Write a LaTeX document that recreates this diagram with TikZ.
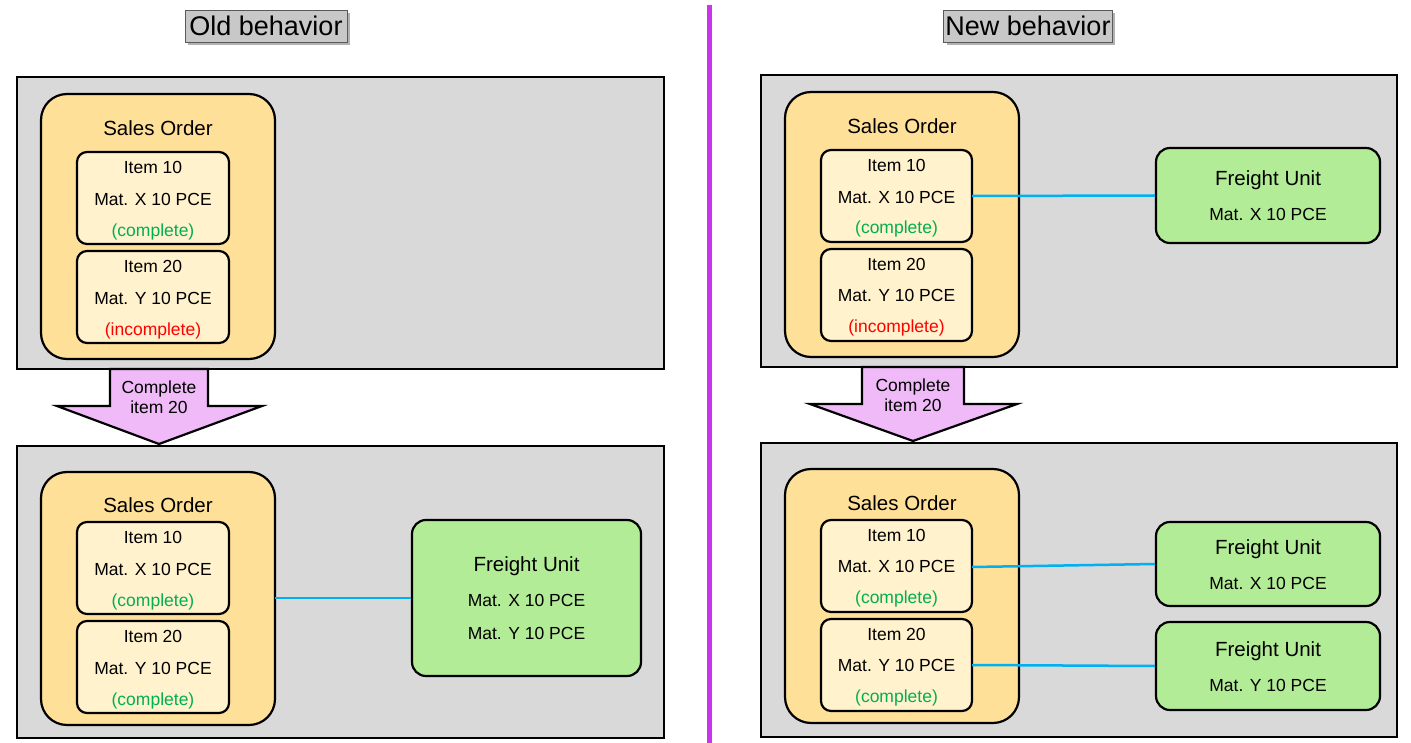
\documentclass[tikz,border=0pt]{standalone}
\usepackage{fontspec}
\setmainfont{Liberation Sans}
\definecolor{panel}{HTML}{D9D9D9}
\definecolor{so}{HTML}{FFE099}
\definecolor{itm}{HTML}{FFF2CC}
\definecolor{fu}{HTML}{B3EC96}
\definecolor{lnk}{HTML}{00B0F0}
\definecolor{arr}{HTML}{F0BAF8}
\definecolor{grn}{HTML}{00B050}
\definecolor{divc}{HTML}{CC33EE}
\definecolor{ttl}{HTML}{C8C8C8}
\begin{document}
\begin{tikzpicture}[x=1pt,y=-1pt,
  panelbox/.style={draw=black,line width=2.2pt,fill=panel},
  sobox/.style={draw=black,line width=2.2pt,fill=so,rounded corners=26pt},
  itembox/.style={draw=black,line width=2.2pt,fill=itm,rounded corners=10pt},
  fubox/.style={draw=black,line width=2.2pt,fill=fu,rounded corners=14pt},
  link/.style={lnk,line width=2.5pt},
  txt/.style={font=\fontsize{17.5}{19.5}\selectfont,inner sep=0pt},
  big/.style={font=\fontsize{20.5}{22}\selectfont,inner sep=0pt},
  arrowshape/.style={draw=black,line width=2.2pt,fill=arr},
  titlebox/.style={draw=gray!70!black,fill=ttl,font=\fontsize{27}{29}\selectfont,inner xsep=2pt,inner ysep=3pt}
]
\useasboundingbox (0,0) rectangle (1411,743);
% divider
\draw[divc,line width=5pt] (709,5) -- (709,743);
% titles
\fill[gray!60] (188,13) rectangle (350,45);
\node[titlebox,minimum width=162pt,minimum height=32pt] (t1) at (266,26) {Old behavior};
\fill[gray!60] (947,13) rectangle (1115,45);
\node[titlebox,minimum width=168pt,minimum height=32pt] (t2) at (1028,26) {New behavior};

\newcommand{\itembx}[6]{%
  \draw[itembox] (#2,#3) rectangle (#4,#5);
  \node[txt] (#1a) at ({(#2+#4)/2},#3+15) {#6};}

% ===== LEFT TOP =====
\draw[panelbox] (17,77) rectangle (664,369);
\draw[sobox] (41,94) rectangle (275,359);
\node[big] (so1) at (158,128) {Sales Order};
\itembx{l1i10}{77}{152}{229}{244}{Item 10}
\node[txt] (l1i10b) at (153,199) {Mat. X 10 PCE};
\node[txt,text=grn] (l1i10c) at (153,232) {(complete)};
\itembx{l1i20}{77}{251}{229}{343}{Item 20}
\node[txt] (l1i20b) at (153,298) {Mat. Y 10 PCE};
\node[txt,text=red] (l1i20c) at (153,331) {(incomplete)};

\draw[arrowshape] (110,369) -- (208,369) -- (208,406) -- (262,406) -- (159,444) -- (57,406) -- (110,406) -- cycle;
\node[txt,align=center] (arl) at (159,397) {Complete\\item 20};

% ===== LEFT BOTTOM =====
\draw[panelbox] (17,446) rectangle (664,738);
\draw[sobox] (41,472) rectangle (275,725);
\node[big] (so2) at (158,505) {Sales Order};
\itembx{l2i10}{77}{522}{229}{614}{Item 10}
\node[txt] (l2i10b) at (153,569) {Mat. X 10 PCE};
\node[txt,text=grn] (l2i10c) at (153,602) {(complete)};
\itembx{l2i20}{77}{621}{229}{713}{Item 20}
\node[txt] (l2i20b) at (153,668) {Mat. Y 10 PCE};
\node[txt,text=grn] (l2i20c) at (153,701) {(complete)};
\node[fubox,minimum width=229pt,minimum height=156pt] (fu1) at (526.5,598) {};
\node[big] at (526.5,566) {Freight Unit};
\node[txt] at (526.5,600) {Mat. X 10 PCE};
\node[txt] at (526.5,633) {Mat. Y 10 PCE};
\coordinate (so2r) at (275,598);
\draw[link] (so2r) -- (fu1.west);

% ===== RIGHT TOP =====
\draw[panelbox] (761,75) rectangle (1397,367);
\draw[sobox] (785,92) rectangle (1019,357);
\node[big] (so3) at (902,126) {Sales Order};
\itembx{r1i10}{821}{150}{972}{242}{Item 10}
\node[txt] (r1i10b) at (896.5,197) {Mat. X 10 PCE};
\node[txt,text=grn] (r1i10c) at (896.5,229) {(complete)};
\itembx{r1i20}{821}{249}{972}{341}{Item 20}
\node[txt] (r1i20b) at (896.5,295) {Mat. Y 10 PCE};
\node[txt,text=red] (r1i20c) at (896.5,328) {(incomplete)};
\node[fubox,minimum width=224pt,minimum height=95pt] (fu2) at (1268,195.5) {};
\node[big] at (1268,180) {Freight Unit};
\node[txt] at (1268,214) {Mat. X 10 PCE};
\coordinate (r1a) at (972,196);
\draw[link] (r1a) -- (fu2.west);

\draw[arrowshape] (862,367) -- (964,367) -- (964,404) -- (1017,404) -- (913,441) -- (810,404) -- (862,404) -- cycle;
\node[txt,align=center] (arr2) at (913,395) {Complete\\item 20};

% ===== RIGHT BOTTOM =====
\draw[panelbox] (761,443) rectangle (1397,737);
\draw[sobox] (785,469) rectangle (1019,723);
\node[big] (so4) at (902,503) {Sales Order};
\itembx{r2i10}{821}{520}{972}{612}{Item 10}
\node[txt] (r2i10b) at (896.5,566) {Mat. X 10 PCE};
\node[txt,text=grn] (r2i10c) at (896.5,599) {(complete)};
\itembx{r2i20}{821}{619}{972}{711}{Item 20}
\node[txt] (r2i20b) at (896.5,665) {Mat. Y 10 PCE};
\node[txt,text=grn] (r2i20c) at (896.5,698) {(complete)};
\node[fubox,minimum width=224pt,minimum height=84pt] (fu3) at (1268,564) {};
\node[big] at (1268,549) {Freight Unit};
\node[txt] at (1268,583) {Mat. X 10 PCE};
\node[fubox,minimum width=224pt,minimum height=88pt] (fu4) at (1268,666) {};
\node[big] at (1268,651) {Freight Unit};
\node[txt] at (1268,685) {Mat. Y 10 PCE};
\coordinate (r2a) at (972,567);
\coordinate (r2b) at (972,665);
\draw[link] (r2a) -- (fu3.west);
\draw[link] (r2b) -- (fu4.west);
\end{tikzpicture}
\end{document}
